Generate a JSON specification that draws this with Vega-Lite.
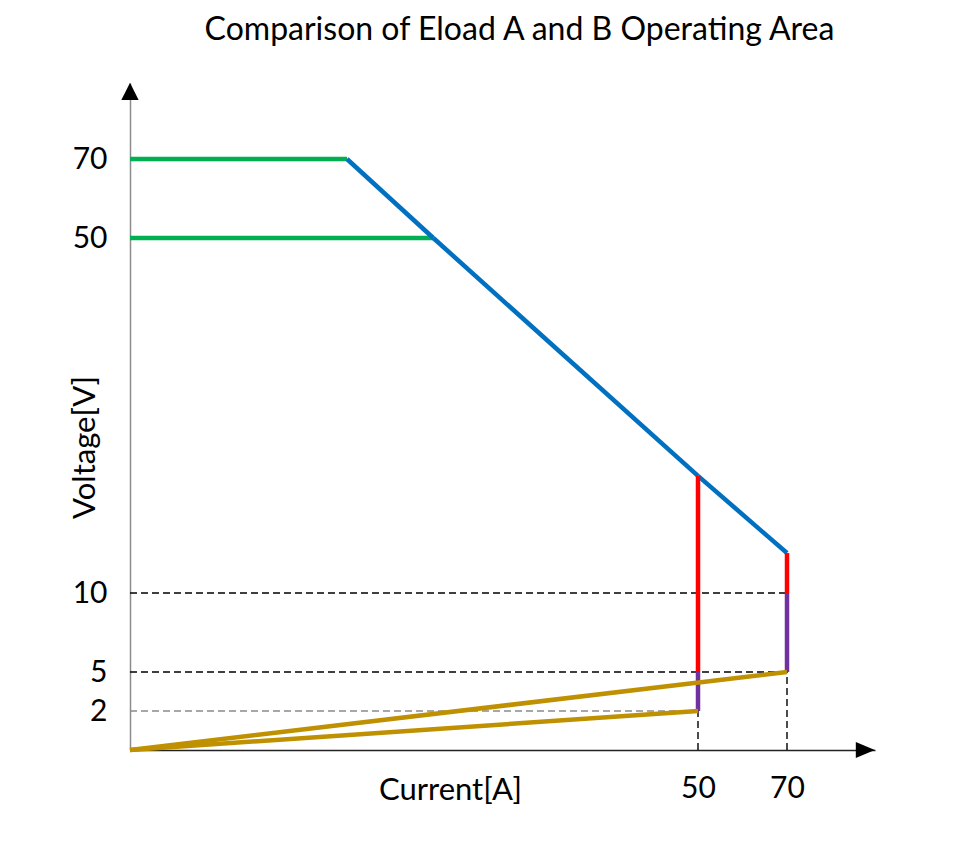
{
  "$schema": "https://vega.github.io/schema/vega-lite/v6.json",
  "width": 745,
  "height": 667,
  "autosize": {"type": "none"},
  "padding": {"left": 130, "top": 83, "right": 102, "bottom": 93},
  "background": "white",
  "title": {
    "text": "Comparison of Eload A and B Operating Area",
    "font": "Lato",
    "fontSize": 32,
    "fontWeight": "normal",
    "color": "black",
    "anchor": "middle",
    "frame": "group",
    "baseline": "alphabetic",
    "dx": 17,
    "offset": 11
  },
  "datasets": {
    "segs": [
      {"k": "dash", "i1": 0, "v1": 10, "i2": 70, "v2": 10},
      {"k": "dash", "i1": 0, "v1": 5, "i2": 70, "v2": 5},
      {"k": "dash", "i1": 50, "v1": 0, "i2": 50, "v2": 2},
      {"k": "dash", "i1": 70, "v1": 0, "i2": 70, "v2": 5},
      {"k": "dash2", "i1": 0, "v1": 2, "i2": 50, "v2": 2},
      {"k": "green", "i1": 0, "v1": 70, "i2": 19.1, "v2": 70},
      {"k": "green", "i1": 0, "v1": 50, "i2": 26.7, "v2": 50},
      {"k": "blue", "i1": 19.1, "v1": 70, "i2": 26.7, "v2": 50},
      {"k": "blue", "i1": 26.7, "v1": 50, "i2": 50, "v2": 23.2},
      {"k": "blue", "i1": 50, "v1": 23.2, "i2": 70, "v2": 14.5},
      {"k": "red", "i1": 50, "v1": 23.2, "i2": 50, "v2": 5},
      {"k": "red", "i1": 70, "v1": 14.5, "i2": 70, "v2": 10},
      {"k": "purple", "i1": 50, "v1": 5, "i2": 50, "v2": 2},
      {"k": "purple", "i1": 70, "v1": 10, "i2": 70, "v2": 5},
      {"k": "gold", "i1": 0, "v1": 0, "i2": 50, "v2": 2},
      {"k": "gold", "i1": 0, "v1": 0, "i2": 70, "v2": 5}
    ],
    "arrows": [
      {"k": "up", "i1": 0, "v1": 86.9},
      {"k": "right", "i1": 87.8, "v1": 0}
    ]
  },
  "encoding": {
    "x": {
      "field": "i1",
      "type": "quantitative",
      "scale": {"domain": [0, 50, 70, 90], "range": [0, 568, 657, 745], "zero": false, "nice": false},
      "axis": {
        "values": [50, 70],
        "title": "Current[A]",
        "grid": false,
        "ticks": false,
        "tickSize": 0,
        "domainColor": "#222222",
        "domainWidth": 1.5,
        "labelFont": "Lato",
        "labelFontSize": 30,
        "labelColor": "black",
        "labelBaseline": "middle",
        "labelPadding": 38,
        "labelFlush": false,
        "labelOverlap": false,
        "titleFont": "Lato",
        "titleFontSize": 31,
        "titleFontWeight": "normal",
        "titleColor": "black",
        "titleX": 320,
        "titleY": 40,
        "titleAlign": "center",
        "titleBaseline": "middle"
      }
    },
    "y": {
      "field": "v1",
      "type": "quantitative",
      "scale": {"domain": [0, 2, 5, 10, 50, 70, 89], "range": [667, 628, 589, 510, 155, 76, 0], "zero": false, "nice": false},
      "axis": {
        "values": [2, 5, 10, 50, 70],
        "title": "Voltage[V]",
        "grid": false,
        "ticks": false,
        "tickSize": 0,
        "domainColor": "#8c8c8c",
        "domainWidth": 1.5,
        "labelFont": "Lato",
        "labelFontSize": 30,
        "labelColor": "black",
        "labelPadding": 23,
        "labelFlush": false,
        "labelOverlap": false,
        "titleFont": "Lato",
        "titleFontSize": 31,
        "titleFontWeight": "normal",
        "titleColor": "black",
        "titleX": -45,
        "titleY": 364,
        "titleAlign": "center",
        "titleBaseline": "middle",
        "titleAngle": -90
      }
    }
  },
  "layer": [
    {
      "data": {"name": "segs"},
      "transform": [{"filter": "datum.k === 'dash' || datum.k === 'dash2'"}],
      "mark": {"type": "rule", "strokeWidth": 1.4, "strokeDash": [7, 4]},
      "encoding": {
        "x2": {"field": "i2"},
        "y2": {"field": "v2"},
        "color": {
          "field": "k",
          "type": "nominal",
          "scale": {"domain": ["dash", "dash2", "green", "blue", "red", "purple", "gold"], "range": ["#000000", "#8a8a8a", "#00B050", "#0070C0", "#FF0000", "#7030A0", "#BF9000"]},
          "legend": null
        }
      }
    },
    {
      "data": {"name": "segs"},
      "transform": [{"filter": "datum.k !== 'dash' && datum.k !== 'dash2'"}],
      "mark": {"type": "rule", "strokeWidth": 4.5, "strokeCap": "butt"},
      "encoding": {
        "x2": {"field": "i2"},
        "y2": {"field": "v2"},
        "color": {"field": "k", "type": "nominal", "legend": null}
      }
    },
    {
      "data": {"name": "arrows"},
      "transform": [{"filter": "datum.k === 'up'"}],
      "mark": {"type": "point", "shape": "M-1,1L0,-1L1,1Z", "size": 300, "filled": true, "color": "black", "opacity": 1, "strokeWidth": 0}
    },
    {
      "data": {"name": "arrows"},
      "transform": [{"filter": "datum.k === 'right'"}],
      "mark": {"type": "point", "shape": "M-1,-0.85L1,0L-1,0.85Z", "size": 361, "filled": true, "color": "black", "opacity": 1, "strokeWidth": 0}
    }
  ],
  "config": {"view": {"stroke": null}}
}
